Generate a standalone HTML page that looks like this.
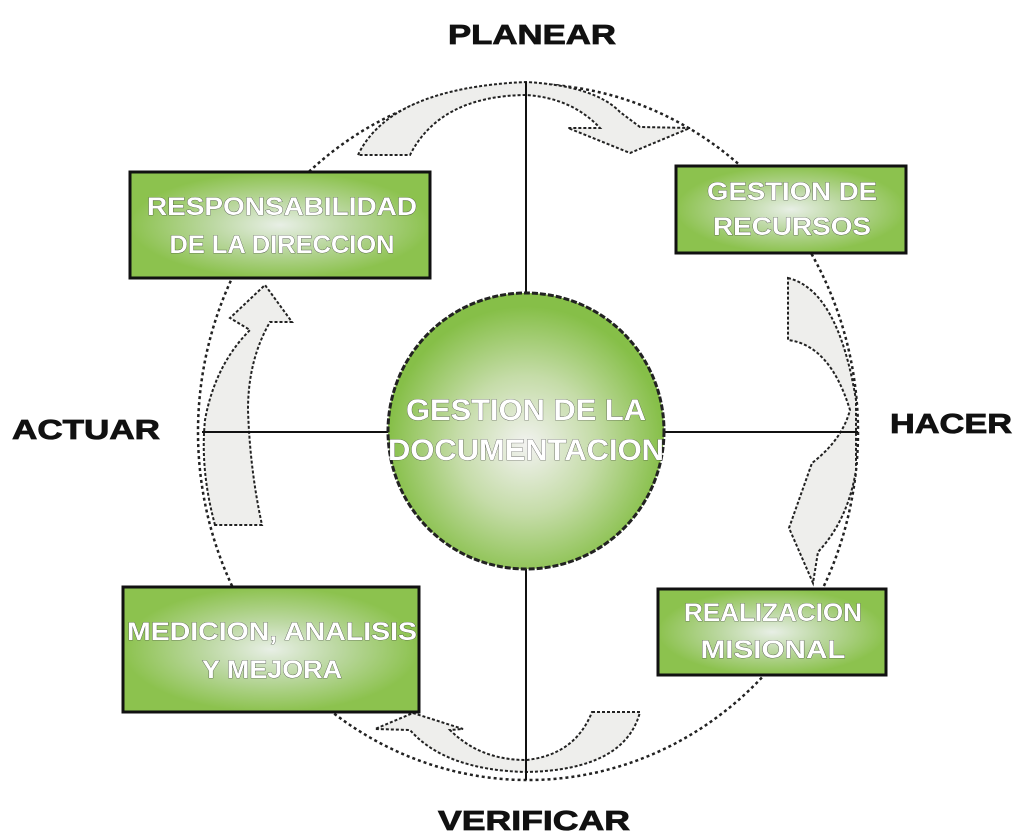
<!DOCTYPE html>
<html><head><meta charset="utf-8"><style>
html,body{margin:0;padding:0;background:#fff;}
svg{display:block;}
.lbl{font-family:"Liberation Sans",sans-serif;font-weight:bold;fill:#111;stroke:#111;stroke-width:0.8;}
.bt{font-family:"Liberation Sans",sans-serif;font-weight:bold;fill:#fff;stroke:#333;stroke-width:0.6;paint-order:stroke;}
</style></head><body>
<svg width="1028" height="836" viewBox="0 0 1028 836" xmlns="http://www.w3.org/2000/svg">
<defs>
<radialGradient id="bg" cx="50%" cy="50%" r="50%">
<stop offset="0" stop-color="#e8efe6"/><stop offset="0.45" stop-color="#bcd8a2"/><stop offset="1" stop-color="#8cc24e"/>
</radialGradient>
<radialGradient id="cg" cx="50%" cy="55%" r="50%">
<stop offset="0" stop-color="#f2f2f0"/><stop offset="0.5" stop-color="#c5dca8"/><stop offset="1" stop-color="#86bf48"/>
</radialGradient>
</defs>
<ellipse cx="528" cy="432" rx="330" ry="348" fill="none" stroke="#222" stroke-width="2.5" stroke-dasharray="3,3"/>
<g fill="#eeeeec" stroke="#222" stroke-width="2" stroke-dasharray="3,2">
<path d="M358,155 Q390,88 526,82 Q595,86 620,112 L640,127 L690,128 L630,153 L568,128 L600,128 Q572,98 526,95 Q440,96 410,155 Z"/>
<path d="M788,278 Q838,290 856,400 L856,470 Q848,520 818,552 L813,583 L789,528 L812,463 Q842,440 850,410 Q830,345 788,340 Z"/>
<path d="M592,712 L640,712 Q625,770 526,772 Q445,770 410,730 L375,729 L413,713 L463,729 L450,730 Q480,760 526,760 Q575,755 592,712 Z"/>
<path d="M215,525 Q200,470 205,420 Q215,365 250,330 L230,318 L265,285 L292,322 L270,322 Q248,360 248,410 Q250,470 262,525 Z"/>
</g>
<line x1="526" y1="82" x2="526" y2="780" stroke="#111" stroke-width="2"/>
<line x1="202" y1="432" x2="858" y2="432" stroke="#111" stroke-width="2"/>
<circle cx="526" cy="431" r="138" fill="url(#cg)" stroke="#222" stroke-width="3" stroke-dasharray="6,2"/>
<g stroke="#111" stroke-width="3">
<rect x="130" y="172" width="300" height="106" fill="url(#bg)"/>
<rect x="676" y="166" width="230" height="87" fill="url(#bg)"/>
<rect x="658" y="589" width="228" height="86" fill="url(#bg)"/>
<rect x="123" y="587" width="296" height="125" fill="url(#bg)"/>
</g>
<text class="bt" font-size="25" text-anchor="middle" x="282" y="215" textLength="270" lengthAdjust="spacingAndGlyphs">RESPONSABILIDAD</text>
<text class="bt" font-size="25" text-anchor="middle" x="282" y="253" textLength="225" lengthAdjust="spacingAndGlyphs">DE LA DIRECCION</text>
<text class="bt" font-size="25" text-anchor="middle" x="792" y="200" textLength="170" lengthAdjust="spacingAndGlyphs">GESTION DE</text>
<text class="bt" font-size="25" text-anchor="middle" x="792" y="235" textLength="158" lengthAdjust="spacingAndGlyphs">RECURSOS</text>
<text class="bt" font-size="25" text-anchor="middle" x="773" y="621" textLength="178" lengthAdjust="spacingAndGlyphs">REALIZACION</text>
<text class="bt" font-size="25" text-anchor="middle" x="773" y="658" textLength="145" lengthAdjust="spacingAndGlyphs">MISIONAL</text>
<text class="bt" font-size="25" text-anchor="middle" x="272" y="640" textLength="290" lengthAdjust="spacingAndGlyphs">MEDICION, ANALISIS</text>
<text class="bt" font-size="25" text-anchor="middle" x="272" y="678" textLength="140" lengthAdjust="spacingAndGlyphs">Y MEJORA</text>
<text class="bt" font-size="30" text-anchor="middle" x="526" y="420" textLength="240" lengthAdjust="spacingAndGlyphs">GESTION DE LA</text>
<text class="bt" font-size="30" text-anchor="middle" x="526" y="460" textLength="276" lengthAdjust="spacingAndGlyphs">DOCUMENTACION</text>
<text class="lbl" font-size="28" x="448" y="44" textLength="168" lengthAdjust="spacingAndGlyphs">PLANEAR</text>
<text class="lbl" font-size="28" x="890" y="433" textLength="122" lengthAdjust="spacingAndGlyphs">HACER</text>
<text class="lbl" font-size="28" x="12" y="439" textLength="148" lengthAdjust="spacingAndGlyphs">ACTUAR</text>
<text class="lbl" font-size="28" x="438" y="830" textLength="192" lengthAdjust="spacingAndGlyphs">VERIFICAR</text>
</svg>
</body></html>
